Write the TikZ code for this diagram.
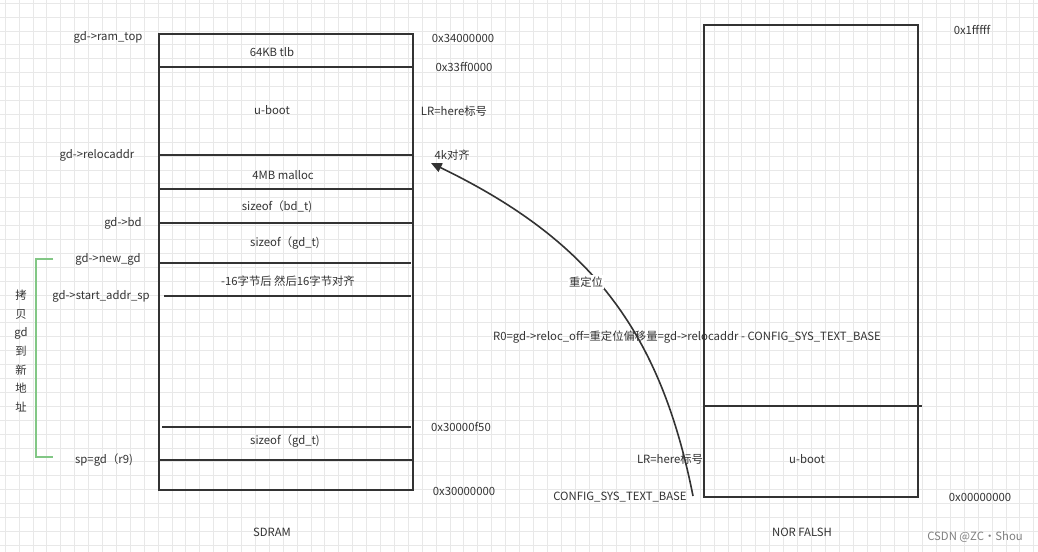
\documentclass[tikz,border=0pt]{standalone}
\usepackage{fontspec}
\setmainfont{Noto Sans CJK SC}
\usetikzlibrary{arrows.meta}
\definecolor{txt}{HTML}{333333}
\definecolor{ln}{HTML}{333333}
\definecolor{gridc}{HTML}{E8E8E8}
\definecolor{grn}{HTML}{82C785}
\tikzset{
 lbl/.style={font=\fontsize{8.5pt}{10pt}\selectfont, text=txt, inner sep=1pt},
 box/.style={draw=ln, line width=1.3pt},
 sep/.style={draw=ln, line width=1.3pt},
}
\begin{document}
\begin{tikzpicture}[x=0.75pt,y=-0.75pt]
\useasboundingbox (0,0) rectangle (1038,552);
\fill[white] (0,0) rectangle (1038,552);
\foreach \i in {0,...,75} {\draw[gridc, line width=0.4pt] (\i*13.9+5,0) -- (\i*13.9+5,552);}
\foreach \j in {0,...,40} {\draw[gridc, line width=0.4pt] (0,\j*13.9+3) -- (1038,\j*13.9+3);}
% SDRAM
\draw[box] (159,34) rectangle (413,490);
\coordinate (s67l) at (159,67); \coordinate (s67r) at (413,67);
\draw[sep] (s67l) -- (s67r);
\draw[sep] (159,155) -- (413,155);
\draw[sep] (159,189) -- (413,189);
\draw[sep] (159,223) -- (413,223);
\draw[sep] (159,263) -- (411,263);
\draw[sep] (164,296) -- (411,296);
\draw[sep] (162,427) -- (411,427);
\draw[sep] (159,460) -- (413,460);
\node[lbl] (t1) at (272,52) {64KB tlb};
\node[lbl] (t2) at (272,110) {u-boot};
\node[lbl] (t3) at (283,175) {4MB malloc};
\node[lbl] (t4) at (277,207) {sizeof（bd\_t)};
\node[lbl] (t5) at (285,243) {sizeof（gd\_t)};
\node[lbl] (t6) at (288,281) {-16字节后 然后16字节对齐};
\node[lbl] (t7) at (285,441) {sizeof（gd\_t)};
\node[lbl] (l1) at (108,37) {gd->ram\_top};
\node[lbl] (l2) at (97,155) {gd->relocaddr};
\node[lbl] (l3) at (123,223) {gd->bd};
\node[lbl] (l4) at (108,259) {gd->new\_gd};
\node[lbl] (l5) at (101,296) {gd->start\_addr\_sp};
\node[lbl] (l6) at (104,460) {sp=gd（r9)};
\node[lbl] (r1) at (463,38) {0x34000000};
\node[lbl] (r2) at (464,67) {0x33ff0000};
\node[lbl] (r3) at (454,111) {LR=here标号};
\node[lbl,anchor=west] (r4) at (433,155) {4k对齐};
\node[lbl] (r5) at (461,427) {0x30000f50};
\node[lbl] (r6) at (464,491) {0x30000000};
\node[lbl] (sd) at (272,532) {SDRAM};
% bracket
\draw[grn, line width=1.2pt] (53,259) -- (36,259) -- (36,457) -- (53,457);
\node[lbl, align=center, font=\fontsize{8.5pt}{14pt}\selectfont] (cp) at (21,351) {拷\\贝\\gd\\到\\新\\地\\址};
% NOR
\draw[box] (704,25) -- (918,25) -- (918,497) -- (704,497) -- cycle;
\draw[sep] (704,406) -- (922,406);
\node[lbl] (n1) at (972,30) {0x1fffff};
\node[lbl] (n2) at (807,459) {u-boot};
\node[lbl] (n3) at (670,459) {LR=here标号};
\node[lbl] (n4) at (980,497) {0x00000000};
\node[lbl] (nf) at (802,532) {NOR FALSH};
\node[lbl] (cfg) at (620,497) {CONFIG\_SYS\_TEXT\_BASE};
\node[lbl] (r0) at (687,337) {R0=gd->reloc\_off=重定位偏移量=gd->relocaddr - CONFIG\_SYS\_TEXT\_BASE};
\coordinate (as) at (693,496);
\coordinate (ae) at (431,163);
\draw[ln, line width=1.2pt, -{Triangle[length=8pt,width=7pt]}] (as) .. controls (660,330) and (590,240) .. (ae);
\node[lbl, fill=white] (rl) at (586,282) {重定位};
\node[lbl, text=gray] (cs) at (975,537) {CSDN @ZC·Shou};
\end{tikzpicture}
\end{document}
